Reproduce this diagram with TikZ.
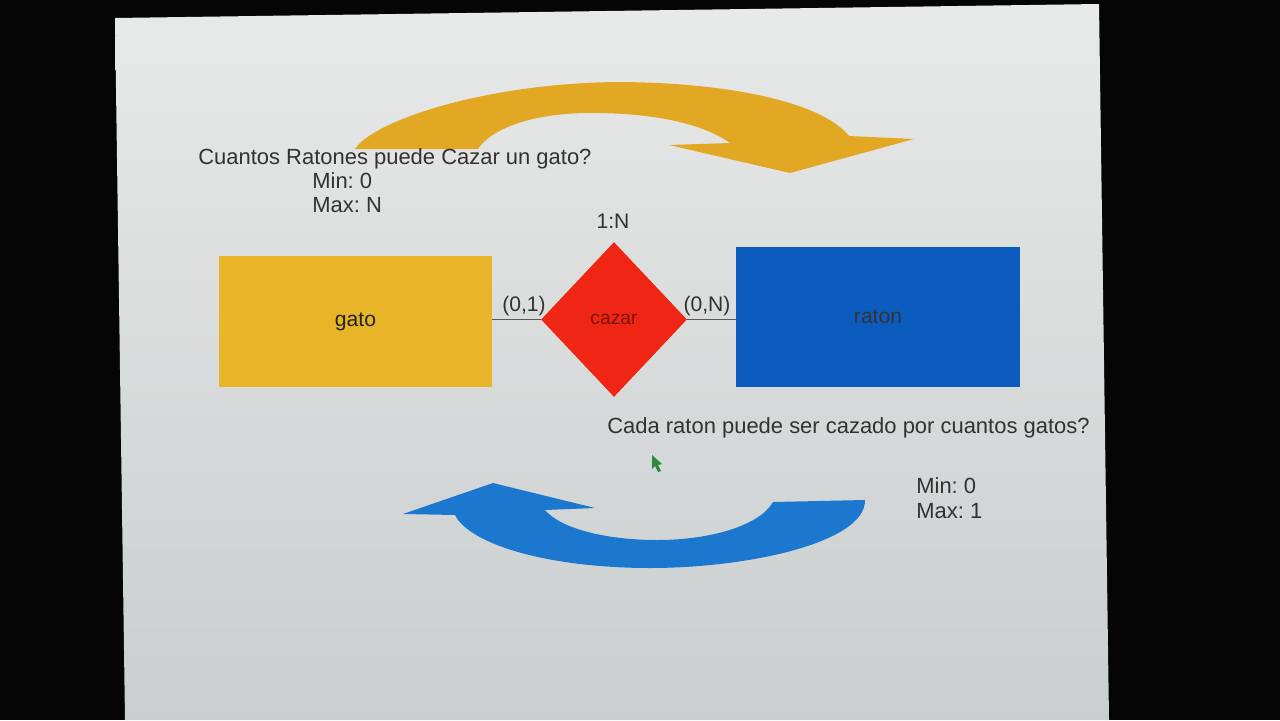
\documentclass[tikz,border=0pt]{standalone}
\usepackage{fontspec}
\setmainfont{Liberation Sans}
\usetikzlibrary{shapes.geometric}
\definecolor{bgblack}{RGB}{5,5,5}
\definecolor{scrtop}{RGB}{232,233,233}
\definecolor{scrbot}{RGB}{202,206,206}
\definecolor{gatocol}{RGB}{232,180,40}
\definecolor{arrowy}{RGB}{226,168,36}
\definecolor{ratoncol}{RGB}{12,92,192}
\definecolor{arrowb}{RGB}{28,120,206}
\definecolor{redcol}{RGB}{240,38,20}
\definecolor{txtcol}{RGB}{50,50,50}
\definecolor{cazcol}{RGB}{125,18,12}
\definecolor{cursorcol}{RGB}{40,140,60}
\tikzset{
  qtext/.style={text=txtcol,font=\fontsize{12.5}{15}\selectfont,inner sep=0pt},
  lbl/.style={text=txtcol,font=\fontsize{12}{14}\selectfont,inner sep=0pt},
  entity/.style={rectangle,inner sep=0pt,text=txtcol!70!black,font=\fontsize{12}{14}\selectfont},
  relbox/.style={diamond,fill=redcol,inner sep=0pt,minimum width=2.92cm,minimum height=3.1cm,text=cazcol,font=\fontsize{11}{14}\selectfont},
  link/.style={draw=gray!70!black,line width=0.5pt}
}
\begin{document}
\frenchspacing
\begin{tikzpicture}[x=0.02cm,y=-0.02cm]
\useasboundingbox (0,0) rectangle (1280,720);
\fill[bgblack] (0,0) rectangle (1280,720);
\shade[top color=scrtop,bottom color=scrbot] (115,18) -- (1099,4) -- (1109,720) -- (125,720) -- cycle;

% top yellow arrow
\fill[arrowy] (355,149) .. controls (372,122) and (480,84) .. (615,82)
  .. controls (720,82) and (820,100) .. (849,136)
  -- (914,139) -- (790,173) -- (669,145) -- (730,143)
  .. controls (700,122) and (650,113) .. (590,113)
  .. controls (530,113) and (490,130) .. (478,149) -- cycle;

% bottom blue arrow
\fill[arrowb] (403,514) -- (493,483) -- (595,508) -- (545,510)
  .. controls (562,530) and (610,540) .. (657,540)
  .. controls (712,540) and (760,525) .. (773,502)
  -- (865,500) .. controls (866,542) and (750,568) .. (650,568)
  .. controls (550,568) and (470,545) .. (455,515) -- cycle;

% entities
\node[entity,fill=gatocol,minimum width=5.46cm,minimum height=2.62cm] (gato) at (355.5,321.5) {gato};
\node[entity,fill=ratoncol,minimum width=5.68cm,minimum height=2.8cm,text=black!80] (raton) at (878,317) {raton};
\node[relbox] (cazar) at (614,319.5) {cazar};

\draw[link] (gato.east |- cazar.west) -- (cazar.west);
\draw[link] (cazar.east) -- (raton.west |- cazar.east);

% labels
\node[lbl,anchor=base] (l01) at (524,311) {(0,1)};
\node[lbl,anchor=base] (l0N) at (707,311) {(0,N)};
\node[lbl,anchor=base] (l1N) at (613,228) {1:N};

% questions
\node[qtext,anchor=base west] (q1) at (198,164) {Cuantos Ratones puede Cazar un gato?};
\node[qtext,anchor=base west] (q1min) at (312,188) {Min: 0};
\node[qtext,anchor=base west] (q1max) at (312,212) {Max: N};
\node[qtext,anchor=base west] (q2) at (607,433) {Cada raton puede ser cazado por cuantos gatos?};
\node[qtext,anchor=base west] (q2min) at (916,493) {Min: 0};
\node[qtext,anchor=base west] (q2max) at (916,518) {Max: 1};

% mouse cursor
\fill[cursorcol] (652,455) -- (662,464) -- (658,465) -- (661,471) -- (658,472) -- (655,466) -- (652,469) -- cycle;
\end{tikzpicture}
\end{document}
